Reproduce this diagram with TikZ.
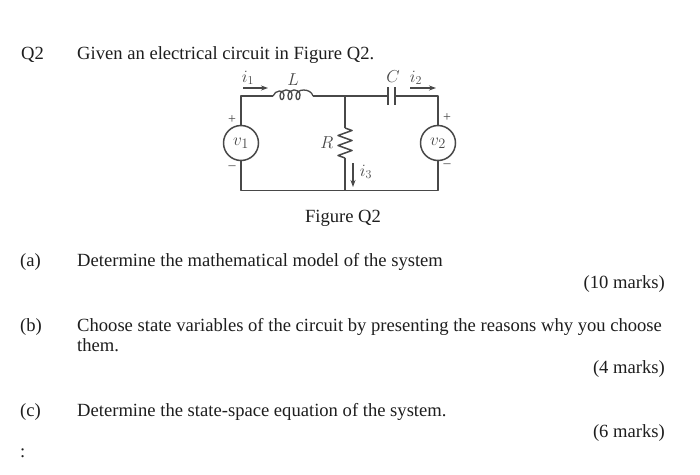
\documentclass[tikz,border=0pt]{standalone}
\usepackage{fontspec}
\setmainfont{Liberation Serif}
\usetikzlibrary{arrows.meta,calc}
\definecolor{txt}{HTML}{1E1E1E}
\definecolor{wire}{HTML}{484848}
\tikzset{
  x=1pt,y=-1pt,
  lefttext/.style={anchor=base west,inner sep=0pt,text=txt,font=\fontsize{18.6}{22}\selectfont},
  righttext/.style={anchor=base east,inner sep=0pt,text=txt,font=\fontsize{18.6}{22}\selectfont},
  midtext/.style={anchor=base,inner sep=0pt,text=txt,font=\fontsize{18.6}{22}\selectfont},
  wireline/.style={draw=wire,line width=1.5pt,line join=round},
  source/.style={circle,draw=wire,line width=1.5pt,minimum size=35pt,inner sep=0pt,text=wire,font=\fontsize{19}{19}\selectfont},
  symb/.style={inner sep=0pt,text=wire,font=\fontsize{17}{17}\selectfont},
  curlabel/.style={inner sep=0pt,text=wire,font=\fontsize{17}{17}\selectfont},
  signlabel/.style={inner sep=0pt,text=wire,font=\fontsize{14}{14}\selectfont},
  curarrow/.style={draw=wire,line width=1.1pt,-{Stealth[length=7pt,width=5pt]}}
}
\begin{document}
\begin{tikzpicture}
\useasboundingbox (0,0) rectangle (700,474);
\fill[white] (0,0) rectangle (700,474);
% text
\node[lefttext] (qtwo) at (21,59.5) {Q2};
\node[lefttext] (given) at (77,59.5) {Given an electrical circuit in Figure Q2.};
\node[midtext] (figcap) at (343,222.5) {Figure Q2};
\node[lefttext] (parta) at (20,266) {(a)};
\node[lefttext] (texta) at (77,266) {Determine the mathematical model of the system};
\node[righttext] (marksa) at (665,288) {(10 marks)};
\node[lefttext] (partb) at (20,331) {(b)};
\node[lefttext] (textb) at (77,331) {Choose state variables of the circuit by presenting the reasons why you choose};
\node[lefttext] (textbb) at (77,351) {them.};
\node[righttext] (marksb) at (665,373) {(4 marks)};
\node[lefttext] (partc) at (20,416) {(c)};
\node[lefttext] (textc) at (77,416) {Determine the state-space equation of the system.};
\node[righttext] (marksc) at (665,437) {(6 marks)};
\node[lefttext] (colon) at (20,457) {:};
% circuit
\coordinate (tl) at (241,96);
\coordinate (tm) at (345,96);
\coordinate (tr) at (438,96);
\coordinate (bl) at (241,190.5);
\coordinate (bm) at (345,190.5);
\coordinate (br) at (438,190.5);
\coordinate (la) at (273,96);
\coordinate (lb) at (313,96);
\coordinate (ca) at (388,96);
\coordinate (cb) at (395,96);
\coordinate (ra) at (345,128);
\coordinate (rb) at (345,158);
\node[source] (vone) at (241,143) {$v_1$};
\node[source] (vtwo) at (438,143) {$v_2$};
\draw[wireline] (vone) -- (tl) -- (la);
\draw[wireline] (lb) -- (tm) -- (ca);
\draw[wireline] (cb) -- (tr) -- (vtwo);
\draw[wireline] (vone) -- (bl) -- (br) -- (vtwo);
\draw[wireline] (tm) -- (ra);
\draw[wireline] (rb) -- (bm);
% inductor
\draw[wireline,line width=1.3pt] (la) .. controls ($(la)+(2,-6)$) and ($(la)+(11,-7)$) .. ($(la)+(11,-1)$)
  .. controls ($(la)+(11,5)$) and ($(la)+(7,5)$) .. ($(la)+(7,0)$)
  .. controls ($(la)+(7,-8)$) and ($(la)+(19,-8)$) .. ($(la)+(19,-1)$)
  .. controls ($(la)+(19,5)$) and ($(la)+(15,5)$) .. ($(la)+(15,0)$)
  .. controls ($(la)+(15,-8)$) and ($(la)+(27,-8)$) .. ($(la)+(27,-1)$)
  .. controls ($(la)+(27,5)$) and ($(la)+(23,5)$) .. ($(la)+(23,0)$)
  .. controls ($(la)+(23,-8)$) and ($(la)+(38,-8)$) .. (lb);
% capacitor
\draw[wireline] ($(ca)+(0,-9)$) -- ($(ca)+(0,9)$);
\draw[wireline] ($(cb)+(0,-9)$) -- ($(cb)+(0,9)$);
% resistor
\draw[wireline] (ra) -- ($(ra)+(7,2.5)$) -- ($(ra)+(-7,7.5)$) -- ($(ra)+(7,12.5)$) -- ($(ra)+(-7,17.5)$) -- ($(ra)+(7,22.5)$) -- ($(ra)+(-7,27.5)$) -- (rb);
% current arrows
\coordinate (ionea) at (243,88); \coordinate (ioneb) at (268,88);
\coordinate (itwoa) at (410,88); \coordinate (itwob) at (436,88);
\coordinate (ithreea) at (353,163); \coordinate (ithreeb) at (353,187);
\draw[curarrow] (ionea) -- (ioneb);
\draw[curarrow] (itwoa) -- (itwob);
\draw[curarrow] (ithreea) -- (ithreeb);
% labels
\node[curlabel] (ionel) at (248,78) {$i_1$};
\node[curlabel] (itwol) at (416,78) {$i_2$};
\node[curlabel] (ithreel) at (366,172) {$i_3$};
\node[symb] (ll) at (293,80) {$L$};
\node[symb] (cl) at (393,77) {$C$};
\node[symb] (rl) at (327,143) {$R$};
\node[signlabel] (plusa) at (232,120) {+};
\node[signlabel] (minusa) at (232,168) {--};
\node[signlabel] (plusb) at (447,118) {+};
\node[signlabel] (minusb) at (447,166) {--};
\end{tikzpicture}
\end{document}
